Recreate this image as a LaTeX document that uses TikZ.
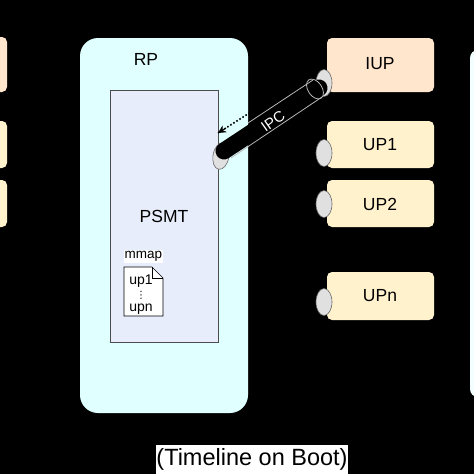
\documentclass[tikz,border=0pt]{standalone}
\usepackage{fontspec}
\setmainfont{Liberation Sans}
\newfontfamily\symfont{DejaVu Sans}
\definecolor{iupc}{HTML}{FFE6CC}
\definecolor{upc}{HTML}{FFF2CC}
\definecolor{rpc}{HTML}{E0FFFF}
\definecolor{psc}{HTML}{E8EDFB}
\definecolor{portc}{HTML}{E0E0E0}
\definecolor{tubel}{HTML}{B8B8B8}
\usetikzlibrary{shapes.geometric,arrows.meta}
\tikzset{
  x=1pt,y=-1pt,
  lab/.style={inner sep=0pt,font=\fontsize{17.5}{17.5}\selectfont},
  filetxt/.style={inner sep=0pt,font=\fontsize{14}{14}\selectfont},
  port/.style={ellipse,draw=black!60,line width=.6pt,fill=portc,minimum width=16pt,minimum height=27pt,inner sep=0pt},
  upfill/.style={fill=upc,rounded corners=5pt},
  iupfill/.style={fill=iupc,rounded corners=5pt},
}
\begin{document}
\begin{tikzpicture}
\useasboundingbox (0,0) rectangle (474,474);
\fill[black] (0,0) rectangle (474,474);
% off-page boxes
\fill[iupfill] (-20,37) rectangle (7,92);
\fill[upfill] (-20,121) rectangle (7,168);
\fill[upfill] (-20,180) rectangle (7,227);
\fill[rpc!40!white,rounded corners=8pt] (470,50) rectangle (500,397);
% RP
\fill[rpc,rounded corners=18pt] (80,38) rectangle (248,413);
\node[lab] (rp) at (146,59) {RP};
\fill[psc,draw=black!70,line width=.6pt] (110,90) rectangle (218,342);
\node[lab] (psmt) at (164,216) {PSMT};
% file
\node[font=\fontsize{13.5}{13.5}\selectfont,fill=white,inner sep=1pt] (mm) at (143.5,256.5) {mmap};
\fill[white,draw=black,line width=.7pt] (124,267) -- (152,267) -- (163,278) -- (163,316) -- (124,316) -- cycle;
\draw[black,line width=.7pt] (152,267) -- (152,278) -- (163,278);
\node[filetxt] (u1) at (141,281) {up1};
\node[inner sep=0pt,font=\symfont\fontsize{10}{10}\selectfont] (dots) at (141,295) {⋮};
\node[filetxt] (un) at (141,309) {upn};
% UP boxes
\fill[iupfill] (327,38) rectangle (434,92);
\node[lab] (iup) at (380,64) {IUP};
\fill[upfill] (327,121) rectangle (434,168);
\node[lab] (up1) at (380,145) {UP1};
\fill[upfill] (327,180) rectangle (434,227);
\node[lab] (up2) at (380,204) {UP2};
\fill[upfill] (327,272) rectangle (434,320);
\node[lab] (upn) at (380,296) {UPn};
% ports
\node[port] (p1) at (324,153) {};
\node[port] (p2) at (324,204) {};
\node[port] (pn) at (324,302) {};
\node[port] (pi) at (324,83) {};
\node[port,rotate=-10] (pr) at (221,156) {};
% IPC arrow
\coordinate (arrs) at (262,105);
\coordinate (arre) at (218,133);
\draw[black,line width=1.6pt,dotted] (arrs) -- (arre);
\draw[-{Stealth[length=8pt,width=8pt]},black,line width=1pt] (226,128) -- (arre);
% tube
\draw[black,line width=17pt,line cap=round] (224,151) -- (319,88);
\draw[tubel,line width=.8pt] (231,158) -- (322,97);
\draw[tubel,line width=.8pt] (248,123) -- (313,80);
\draw[tubel,line width=.8pt,rotate around={34:(315,89)}] (315,89) ellipse (7 and 11);
\node[white,rotate=35,font=\fontsize{15}{15}\selectfont,inner sep=0pt] (ipc) at (273,121) {IPC};
% caption
\node[fill=white,inner sep=0pt,minimum width=190pt,minimum height=29pt,font=\fontsize{23.5}{23.5}\selectfont] (tl) at (252,459.5) {(Timeline on Boot)};
\end{tikzpicture}
\end{document}
